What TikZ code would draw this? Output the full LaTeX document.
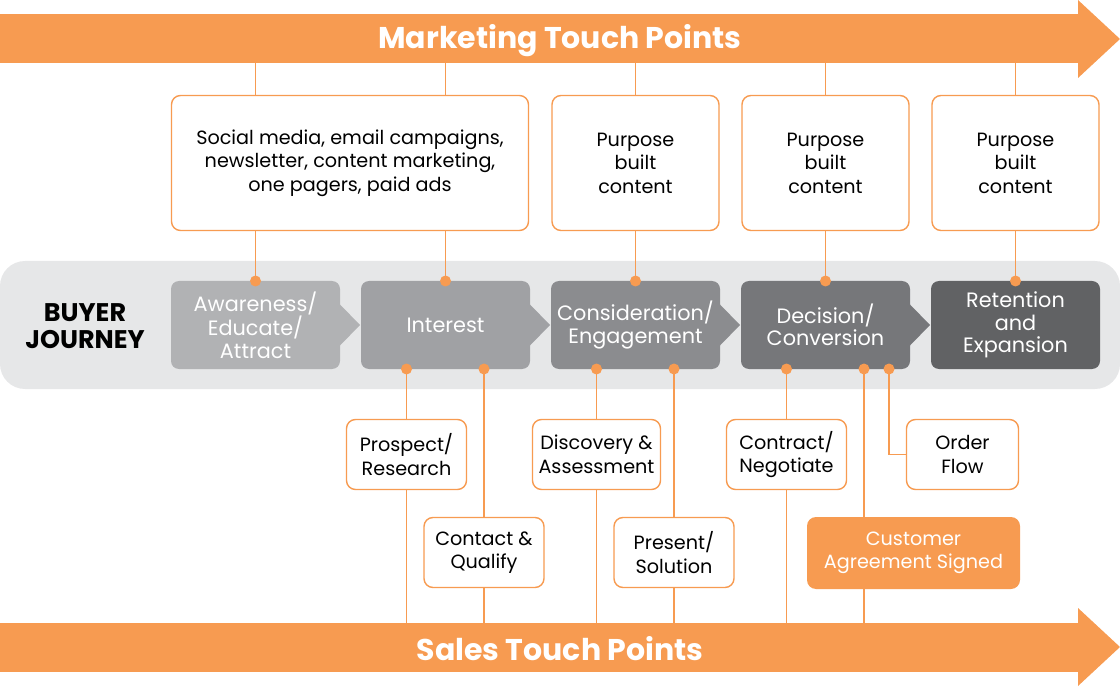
\documentclass[tikz,border=0pt]{standalone}
\usepackage{fontspec}
\setmainfont{Poppins}
\definecolor{orng}{HTML}{F79B51}
\definecolor{bandgray}{HTML}{E6E7E8}
\definecolor{ga}{HTML}{B1B2B4}
\definecolor{gb}{HTML}{A0A1A4}
\definecolor{gc}{HTML}{8B8C8F}
\definecolor{gd}{HTML}{76777A}
\definecolor{ge}{HTML}{616264}
\tikzset{
  bar/.style={fill=orng, draw=none, minimum width=1078pt, minimum height=49pt, inner sep=0pt, outer sep=0pt},
  title/.style={text=white, font=\bfseries\fontsize{30}{34}\selectfont},
  topbox/.style={draw=orng, line width=1.4pt, fill=white, rounded corners=9pt, minimum width=167pt, minimum height=135pt, inner sep=0pt, outer sep=0pt, align=center, font=\fontsize{19.2}{23.5}\selectfont},
  stage/.style={rounded corners=8pt, minimum width=169pt, minimum height=88pt, inner sep=0pt, outer sep=0pt, align=center, text=white, font=\fontsize{20.8}{22.5}\selectfont},
  subbox/.style={draw=orng, line width=1.4pt, fill=white, rounded corners=9pt, minimum height=70pt, inner sep=0pt, outer sep=0pt, align=center, font=\fontsize{19.2}{23.5}\selectfont},
  conn/.style={draw=orng, line width=1.4pt},
  dot/.style={circle, fill=orng, inner sep=0pt, minimum size=11pt},
}
\begin{document}
\begin{tikzpicture}[x=1pt,y=-1pt]
\useasboundingbox (0,0) rectangle (1120,687);
% marketing arrow
\node[bar] (mk) at (539,39) {};
\fill[orng] (mk.north east) -- (1078,0) -- (1120,39) -- (1078,78) -- (mk.south east) -- cycle;
\node[title] (mkt) at (560,41) {Marketing Touch Points};
% sales arrow
\node[bar] (sl) at (539,647) {};
\fill[orng] (sl.north east) -- (1078,608) -- (1120,647) -- (1078,686) -- (sl.south east) -- cycle;
\node[title] (slt) at (560,649) {Sales Touch Points};
% band
\node[fill=bandgray, rounded corners=25pt, minimum width=1120pt, minimum height=128pt, inner sep=0pt, outer sep=0pt] (band) at (560,325) {};
\node[align=center, font=\bfseries\fontsize{25.5}{26.5}\selectfont] (bj) at (85,326) {BUYER\\JOURNEY};
% stages
\node[stage, fill=ga] (s1) at (255.5,325) {Awareness/\\Educate/\\Attract};
\node[stage, fill=gb] (s2) at (445.5,325) {Interest};
\node[stage, fill=gc] (s3) at (635.5,325) {Consideration/\\Engagement};
\node[stage, fill=gd] (s4) at (825.5,325) {Decision/\\Conversion};
\node[stage, fill=ge] (s5) at (1015.5,325) {Retention\\and\\Expansion};
\fill[ga] ([yshift=20.5pt]s1.east) -- ([xshift=20pt]s1.east) -- ([yshift=-20.5pt]s1.east) -- cycle;
\fill[gb] ([yshift=20.5pt]s2.east) -- ([xshift=20pt]s2.east) -- ([yshift=-20.5pt]s2.east) -- cycle;
\fill[gc] ([yshift=20.5pt]s3.east) -- ([xshift=20pt]s3.east) -- ([yshift=-20.5pt]s3.east) -- cycle;
\fill[gd] ([yshift=20.5pt]s4.east) -- ([xshift=20pt]s4.east) -- ([yshift=-20.5pt]s4.east) -- cycle;
% top boxes
\node[topbox, minimum width=357pt] (t1) at (350,163) {Social media, email campaigns,\\newsletter, content marketing,\\one pagers, paid ads};
\node[topbox] (t2) at (635.5,163) {Purpose\\built\\content};
\node[topbox] (t3) at (825.5,163) {Purpose\\built\\content};
\node[topbox] (t4) at (1015.5,163) {Purpose\\built\\content};
% top connectors
\foreach \s/\t in {s1/t1, s2/t1, s3/t2, s4/t3, s5/t4}{
  \draw[conn] (\s.north |- mk.south) -- (\s.north |- \t.north);
  \draw[conn] (\s.north |- \t.south) -- (\s.north);
  \node[dot] at (\s.north) {};
}
% bottom boxes
\node[subbox, minimum width=120pt] (pr) at (406.5,454.5) {Prospect/\\Research};
\node[subbox, minimum width=120pt] (cq) at (484,552.5) {Contact \&\\Qualify};
\node[subbox, minimum width=128pt] (da) at (596.5,454.5) {Discovery \&\\Assessment};
\node[subbox, minimum width=120pt] (ps) at (674,552.5) {Present/\\Solution};
\node[subbox, minimum width=120pt] (cn) at (786.5,454.5) {Contract/\\Negotiate};
\node[subbox, minimum width=112pt] (of) at (962.5,454.5) {Order\\Flow};
\node[fill=orng, rounded corners=9pt, minimum width=213pt, minimum height=72pt, inner sep=0pt, outer sep=0pt, align=center, text=white, font=\fontsize{19.2}{23.5}\selectfont] (ca) at (913.5,553) {Customer\\Agreement Signed};
\coordinate (cad) at (864,369);
\coordinate (ofd) at (889,369);
% bottom connectors
\foreach \b in {pr, cq, da, ps, cn}{
  \draw[conn] (\b.north |- s2.south) -- (\b.north);
  \draw[conn] (\b.south) -- (\b.south |- sl.north);
  \node[dot] at (\b.north |- s2.south) {};
}
\draw[conn] (cad) -- (cad |- ca.north);
\draw[conn] (cad |- ca.south) -- (cad |- sl.north);
\node[dot] at (cad) {};
\draw[conn] (ofd) |- (of.west);
\node[dot] at (ofd) {};
\end{tikzpicture}
\end{document}
